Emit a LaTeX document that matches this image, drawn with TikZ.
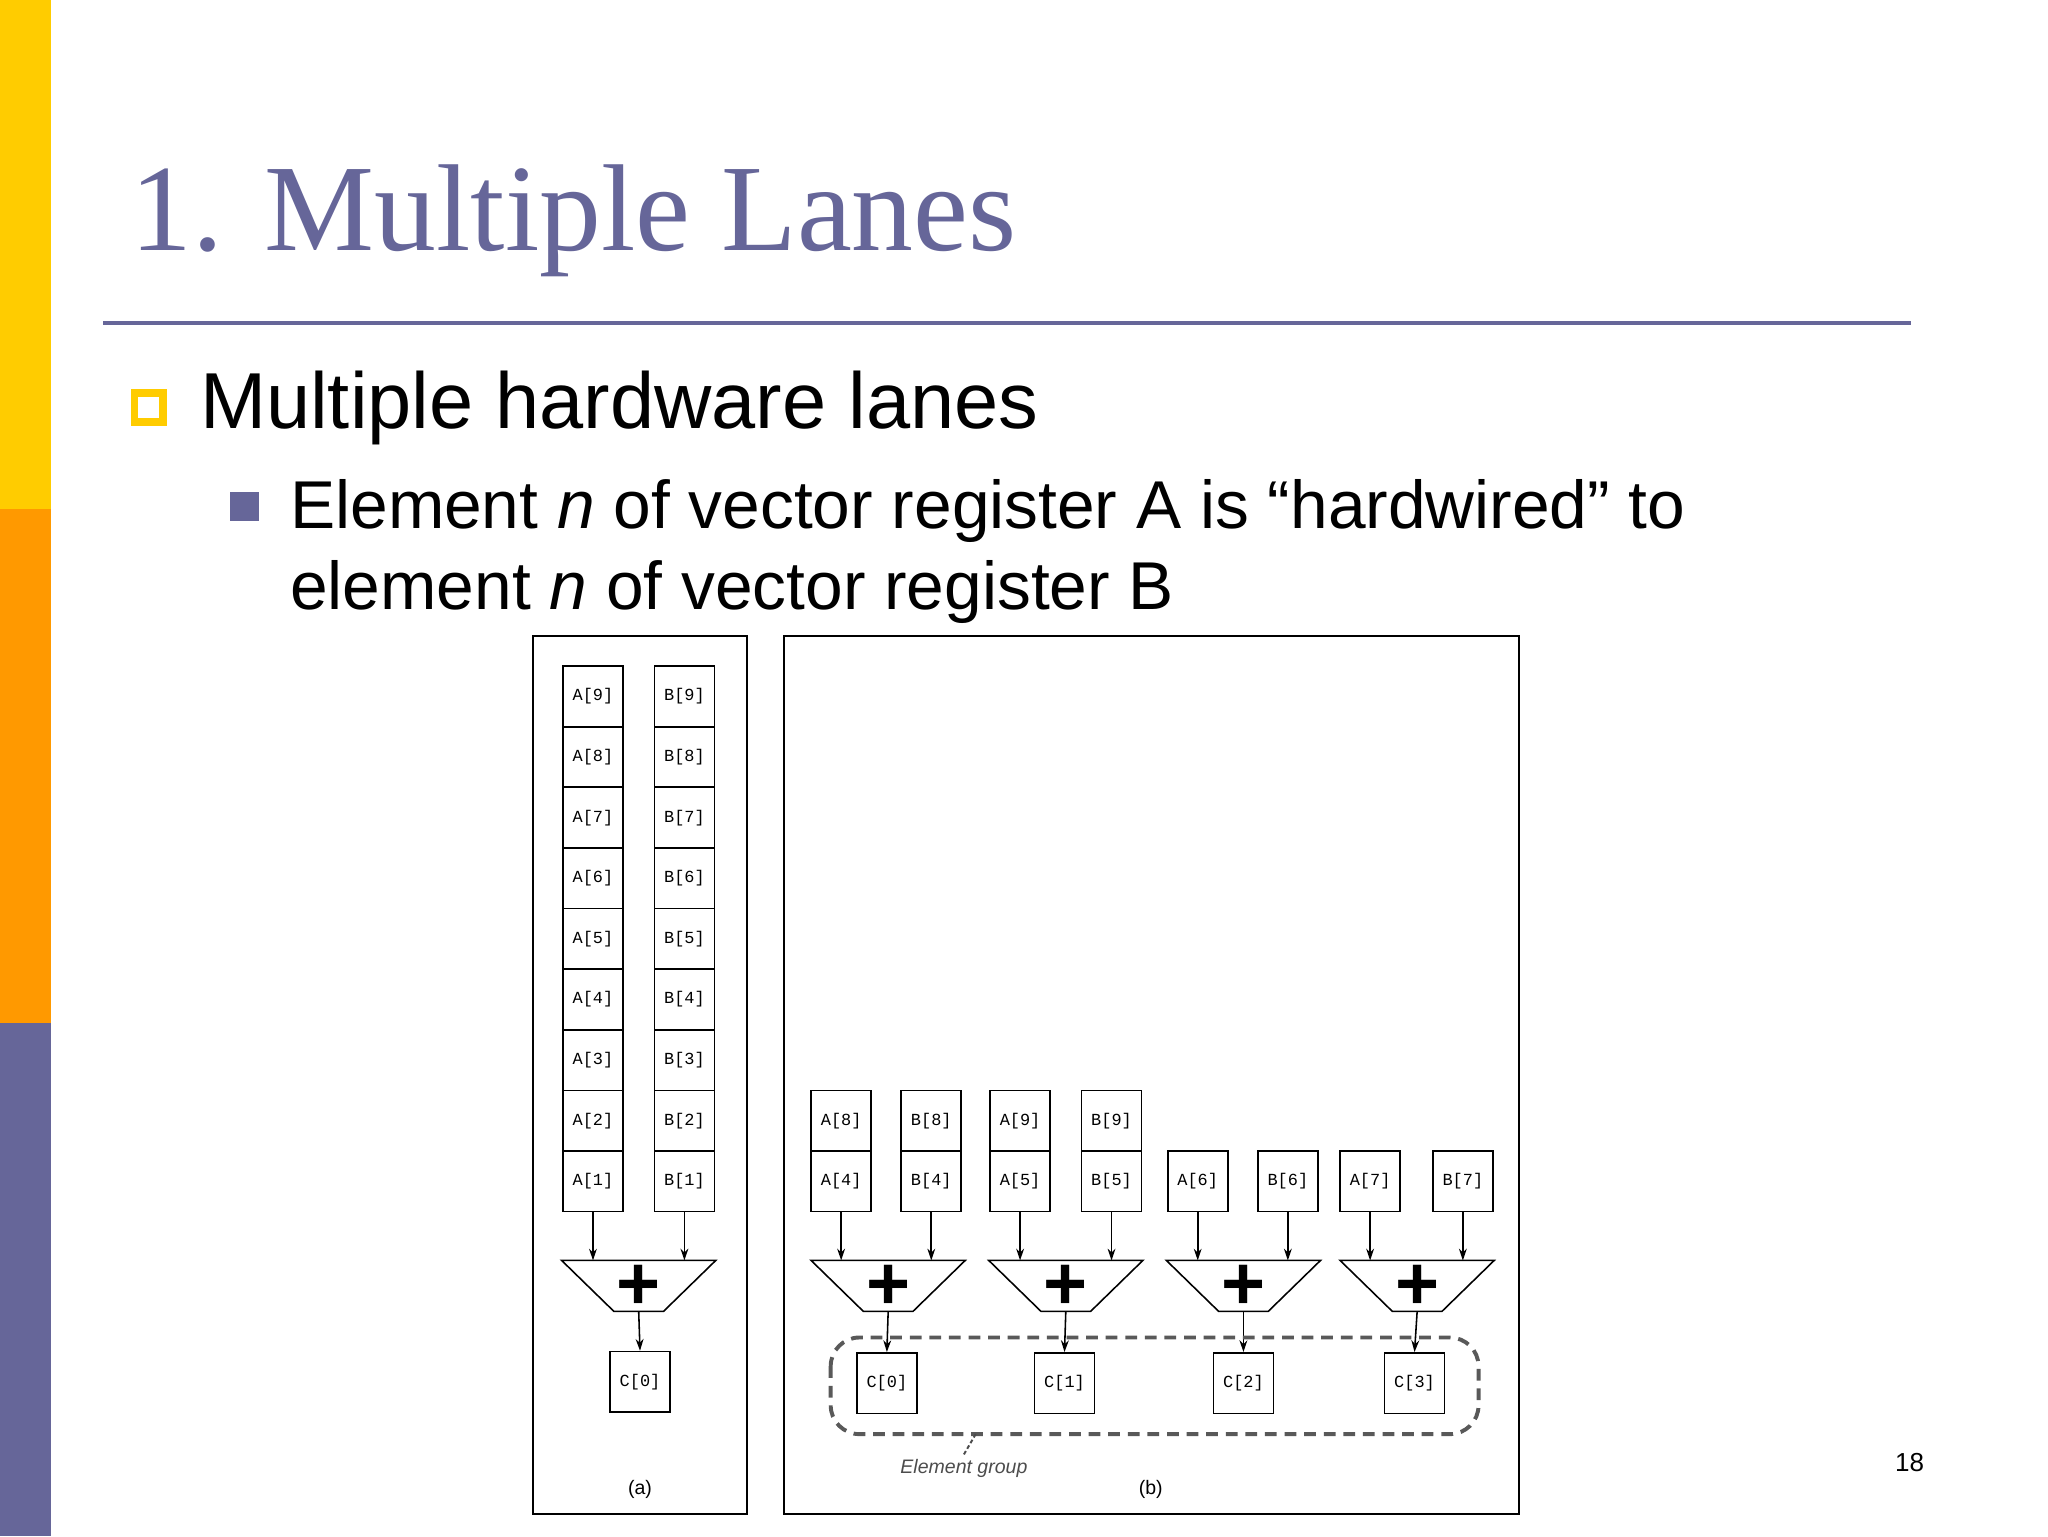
\documentclass[tikz,border=0pt]{standalone}
\usepackage{fontspec}
\setmainfont{Liberation Serif}
\setsansfont{Liberation Sans}
\setmonofont{Liberation Mono}
\usetikzlibrary{arrows.meta}
\definecolor{slate}{RGB}{102,102,153}
\definecolor{slideyellow}{RGB}{255,204,0}
\definecolor{slideorange}{RGB}{255,153,0}
\tikzset{
 reg/.style={draw,line width=1.3bp,minimum width=46bp,minimum height=46.4bp,inner sep=0,font=\fontsize{13}{13}\ttfamily},
 arr/.style={-{Stealth[length=9bp,width=6bp]},line width=1.2bp},
 plus/.style={font=\fontsize{58}{58}\bfseries\sffamily,inner sep=0},
 trap/.style={draw,line width=1.2bp}
}
\begin{document}
\begin{tikzpicture}[x=1bp,y=-1bp]
\useasboundingbox (0,0) rectangle (1568,1176);
\fill[slideyellow] (0,0) rectangle (39,390);
\fill[slideorange] (0,390) rectangle (39,783);
\fill[slate] (0,783) rectangle (39,1176);
\node[anchor=base west,text=slate,font=\fontsize{95}{95}\selectfont,inner sep=0] (title) at (100,192) {1. Multiple Lanes};
\draw[slate,line width=3bp] (79,247) -- (1463,247);
\draw[slideyellow,line width=6bp] (103,301) rectangle (125,323);
\node[anchor=base west,font=\fontsize{61}{61}\sffamily,inner sep=0] (b1) at (153,328) {Multiple hardware lanes};
\fill[slate] (176,377) rectangle (198,399);
\node[anchor=base west,font=\fontsize{52}{52}\sffamily,inner sep=0] (b2) at (222,405) {Element \textit{n} of vector register A is “hardwired” to};
\node[anchor=base west,font=\fontsize{52}{52}\sffamily,inner sep=0] (b3) at (222,467) {element \textit{n} of vector register B};
% panels
\draw[line width=1.5bp] (408,487) rectangle (572,1159);
\draw[line width=1.5bp] (600,487) rectangle (1163,1159);
% panel a
\foreach \i in {1,...,9}{
 \node[reg] (A\i) at (454,{533.2+(9-\i)*46.4}) {A[\i]};
 \node[reg] (B\i) at (524,{533.2+(9-\i)*46.4}) {B[\i]};
}
\draw[trap] (430,965) -- (548,965) -- (508,1004) -- (470,1004) -- cycle;
\coordinate (sat) at (489,965);
\coordinate (sab) at (489,1004);
\node[plus] (sa) at (489,986) {+};
\draw[arr] (A1.south) -- (A1.south |- sat);
\draw[arr] (B1.south) -- (B1.south |- sat);
\node[reg] (ca) at (490,1058) {C[0]};
\draw[arr] (sab) -- (ca.north);
\node[font=\fontsize{15}{15}\sffamily] (la) at (490,1140) {(a)};
% panel b
\node[reg] (bA8) at (644,858) {A[8]};
\node[reg] (bA4) at (644,904.4) {A[4]};
\node[reg] (bB8) at (713,858) {B[8]};
\node[reg] (bB4) at (713,904.4) {B[4]};
\node[reg] (bA9) at (781,858) {A[9]};
\node[reg] (bA5) at (781,904.4) {A[5]};
\node[reg] (bB9) at (851,858) {B[9]};
\node[reg] (bB5) at (851,904.4) {B[5]};
\node[reg] (bA6) at (917,904.4) {A[6]};
\node[reg] (bB6) at (986,904.4) {B[6]};
\node[reg] (bA7) at (1049,904.4) {A[7]};
\node[reg] (bB7) at (1120,904.4) {B[7]};
\foreach \k/\x/\cx in {0/680/679,1/816/815,2/952/952,3/1085/1083}{
 \draw[trap] (\x-59,965) -- (\x+59,965) -- (\x+19,1004) -- (\x-19,1004) -- cycle;
 \coordinate (st\k) at (\x,965);
 \coordinate (sb\k) at (\x,1004);
 \node[plus] (s\k) at (\x,986) {+};
 \node[reg] (c\k) at (\cx,1059) {C[\k]};
 \draw[arr] (sb\k) -- (c\k.north);
}
\foreach \n/\k in {bA4/0,bB4/0,bA5/1,bB5/1,bA6/2,bB6/2,bA7/3,bB7/3}{
 \draw[arr] (\n.south) -- (\n.south |- st\k);
}
\draw[dashed,dash pattern=on 9bp off 6bp,line width=3bp,gray!70!black,rounded corners=22bp] (636,1024) rectangle (1132,1098);
\node[font=\fontsize{15}{15}\sffamily\itshape,text=gray!60!black] (eg) at (738,1124) {Element group};
\draw[densely dashed,line width=1.5bp,gray!60!black] (747,1098) -- (eg.north);
\node[font=\fontsize{15}{15}\sffamily] (lb) at (881,1140) {(b)};
\node[font=\fontsize{20}{20}\sffamily] (pg) at (1462,1120) {18};
\end{tikzpicture}
\end{document}
